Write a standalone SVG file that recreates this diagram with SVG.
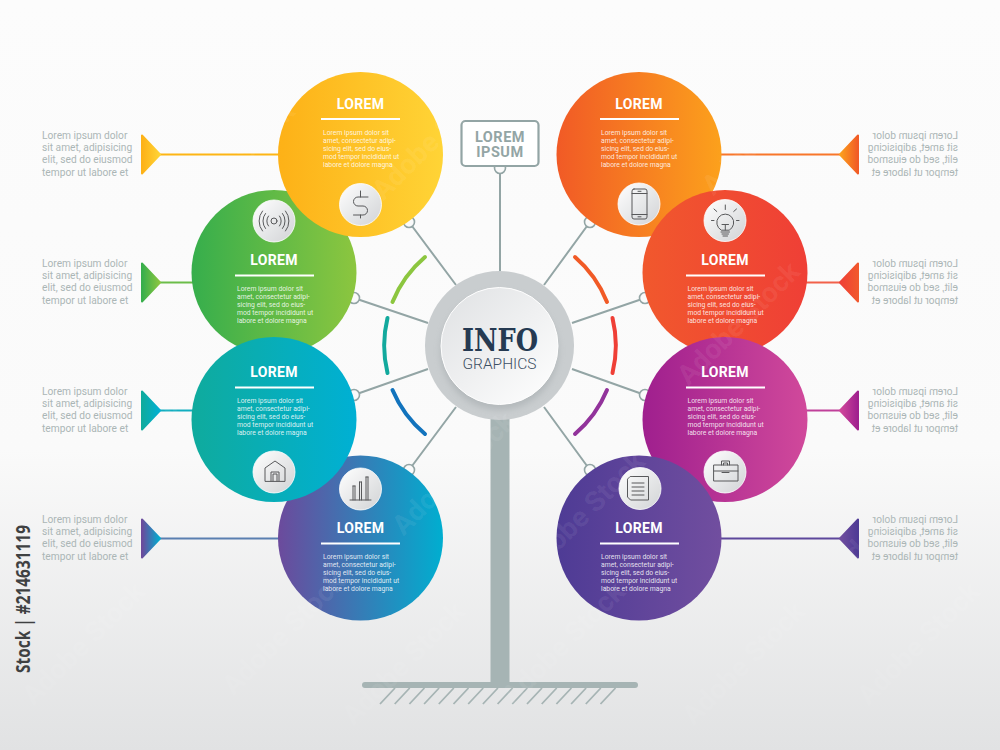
<svg xmlns="http://www.w3.org/2000/svg" width="1000" height="750" viewBox="0 0 1000 750">
<defs>
<linearGradient id="bg" x1="0" y1="0" x2="0" y2="1"><stop offset="0" stop-color="#fcfcfc"/><stop offset=".6" stop-color="#fafafa"/><stop offset="1" stop-color="#e1e2e3"/></linearGradient>
<linearGradient id="gY"><stop offset="0" stop-color="#fdb117"/><stop offset="1" stop-color="#ffd436"/></linearGradient>
<linearGradient id="gG"><stop offset="0" stop-color="#36ae4c"/><stop offset="1" stop-color="#8cc63f"/></linearGradient>
<linearGradient id="gT"><stop offset="0" stop-color="#0fab9d"/><stop offset="1" stop-color="#00b0d4"/></linearGradient>
<linearGradient id="gB"><stop offset="0" stop-color="#6c4a9c"/><stop offset="1" stop-color="#00aed0"/></linearGradient>
<linearGradient id="gO"><stop offset="0" stop-color="#f15a26"/><stop offset="1" stop-color="#fca11c"/></linearGradient>
<linearGradient id="gR"><stop offset="0" stop-color="#f1582d"/><stop offset="1" stop-color="#ef3f36"/></linearGradient>
<linearGradient id="gM"><stop offset="0" stop-color="#9f1f8e"/><stop offset="1" stop-color="#d1499b"/></linearGradient>
<linearGradient id="gI"><stop offset="0" stop-color="#4e3b95"/><stop offset="1" stop-color="#714e9f"/></linearGradient>
<linearGradient id="gIcon" x1="0" y1="0" x2="1" y2="1"><stop offset="0" stop-color="#ffffff"/><stop offset="1" stop-color="#d1d3d5"/></linearGradient>
<linearGradient id="gHub" x1="0" y1="0" x2="1" y2="1"><stop offset="0" stop-color="#dfe1e3"/><stop offset="1" stop-color="#ffffff"/></linearGradient>
<filter id="soft" x="-20%" y="-20%" width="140%" height="140%"><feGaussianBlur stdDeviation="3"/></filter>
</defs>
<style>
.sp{stroke:#93a5a5;stroke-width:2;fill:none}
.dot{stroke:#93a5a5;stroke-width:1.6;fill:#fafafa}
.arc{stroke-width:4;fill:none;stroke-linecap:round}
.ln{stroke-width:2;fill:none}
.ar{stroke-width:2;stroke-linejoin:round}
.side{font-family:"Roboto","Liberation Sans",sans-serif;font-size:10.2px;fill:#abb6b6}
.ttl{font-family:"Roboto","Liberation Sans",sans-serif;font-size:14px;font-weight:700;fill:#fff;text-anchor:middle;letter-spacing:.3px}
.body{font-family:"Roboto","Liberation Sans",sans-serif;font-size:6.8px;fill:#fff;fill-opacity:.85}
.rule{stroke:#fff;stroke-width:1.8}
.ic{fill:url(#gIcon);stroke:#fff;stroke-width:.8}
.ig{fill:none;stroke:#58595b;stroke-width:1;stroke-linecap:round;stroke-linejoin:round}
.wm{font-family:"Roboto","Liberation Sans",sans-serif;font-size:28px;font-weight:700;fill:#fff;fill-opacity:.08;text-anchor:middle}
</style>
<rect width="1000" height="750" fill="url(#bg)"/>

<g id="connectors">
<path class="sp" d="M456 285L409 222M428 323L354 298M428 369L354 395M456 407L409 470M544 285L590 222M572 323L645 298M572 369L645 395M544 407L590 470M500 271V170"/>
<g>
<circle class="dot" cx="409" cy="222" r="5.5"/><circle class="dot" cx="354" cy="298" r="5.5"/><circle class="dot" cx="354" cy="395" r="5.5"/><circle class="dot" cx="409" cy="470" r="5.5"/>
<circle class="dot" cx="590" cy="222" r="5.5"/><circle class="dot" cx="645" cy="298" r="5.5"/><circle class="dot" cx="645" cy="395" r="5.5"/><circle class="dot" cx="590" cy="470" r="5.5"/>
<circle class="dot" cx="500" cy="168" r="5.5"/>
</g>
<path class="arc" stroke="#8cc63f" d="M425 257A116 116 0 0 0 392.5 302"/>
<path class="arc" stroke="#12a99d" d="M387.500 318A116 116 0 0 0 387.500 373"/>
<path class="arc" stroke="#1273bd" d="M392.500 390A116 116 0 0 0 425 434"/>
<path class="arc" stroke="#f15a26" d="M575 257A116 116 0 0 1 607 302"/>
<path class="arc" stroke="#ef3f36" d="M612.500 318A116 116 0 0 1 612.500 373"/>
<path class="arc" stroke="#92339b" d="M607 390A116 116 0 0 1 575 434"/>
<path class="ln" stroke="#fdb515" d="M160 154.500H290"/>
<path class="ln" stroke="#6cbd4a" d="M160 282.500H200"/>
<path class="ln" stroke="#12aec0" d="M160 410.500H200"/>
<path class="ln" stroke="#5a7fb0" d="M160 538.500H290"/>
<path class="ln" stroke="#f8762a" d="M710 154.500H840"/>
<path class="ln" stroke="#f2614a" d="M800 282.500H840"/>
<path class="ln" stroke="#c0409a" d="M800 410.500H840"/>
<path class="ln" stroke="#5d479b" d="M710 538.500H840"/>
<path class="ar" fill="url(#gY)" stroke="url(#gY)" d="M142 135.500V173.500L160 154.500Z"/>
<path class="ar" fill="url(#gG)" stroke="url(#gG)" d="M142 263.500V301.500L160 282.500Z"/>
<path class="ar" fill="url(#gT)" stroke="url(#gT)" d="M142 391.500V429.500L160 410.500Z"/>
<path class="ar" fill="url(#gB)" stroke="url(#gB)" d="M142 519.500V557.500L160 538.500Z"/>
<path class="ar" fill="url(#gO)" stroke="url(#gO)" transform="matrix(-1 0 0 1 1000 0)" d="M142 135.500V173.500L160 154.500Z"/>
<path class="ar" fill="url(#gR)" stroke="url(#gR)" transform="matrix(-1 0 0 1 1000 0)" d="M142 263.500V301.500L160 282.500Z"/>
<path class="ar" fill="url(#gM)" stroke="url(#gM)" transform="matrix(-1 0 0 1 1000 0)" d="M142 391.500V429.500L160 410.500Z"/>
<path class="ar" fill="url(#gI)" stroke="url(#gI)" transform="matrix(-1 0 0 1 1000 0)" d="M142 519.500V557.500L160 538.500Z"/>
</g>

<g id="notes-left" class="side">
<text x="42" y="139">Lorem ipsum dolor</text><text x="42" y="151.200">sit amet, adipisicing</text><text x="42" y="163.400">elit, sed do eiusmod</text><text x="42" y="175.600">tempor ut labore et</text>
<text x="42" y="267">Lorem ipsum dolor</text><text x="42" y="279.200">sit amet, adipisicing</text><text x="42" y="291.400">elit, sed do eiusmod</text><text x="42" y="303.600">tempor ut labore et</text>
<text x="42" y="395">Lorem ipsum dolor</text><text x="42" y="407.200">sit amet, adipisicing</text><text x="42" y="419.400">elit, sed do eiusmod</text><text x="42" y="431.600">tempor ut labore et</text>
<text x="42" y="523">Lorem ipsum dolor</text><text x="42" y="535.200">sit amet, adipisicing</text><text x="42" y="547.400">elit, sed do eiusmod</text><text x="42" y="559.600">tempor ut labore et</text>
</g>
<g id="notes-right" class="side" transform="matrix(-1 0 0 1 1000 0)">
<text x="42" y="139">Lorem ipsum dolor</text><text x="42" y="151.200">sit amet, adipisicing</text><text x="42" y="163.400">elit, sed do eiusmod</text><text x="42" y="175.600">tempor ut labore et</text>
<text x="42" y="267">Lorem ipsum dolor</text><text x="42" y="279.200">sit amet, adipisicing</text><text x="42" y="291.400">elit, sed do eiusmod</text><text x="42" y="303.600">tempor ut labore et</text>
<text x="42" y="395">Lorem ipsum dolor</text><text x="42" y="407.200">sit amet, adipisicing</text><text x="42" y="419.400">elit, sed do eiusmod</text><text x="42" y="431.600">tempor ut labore et</text>
<text x="42" y="523">Lorem ipsum dolor</text><text x="42" y="535.200">sit amet, adipisicing</text><text x="42" y="547.400">elit, sed do eiusmod</text><text x="42" y="559.600">tempor ut labore et</text>
</g>

<g id="node-blue">
<circle cx="360.500" cy="538" r="82.500" fill="url(#gB)"/>
<circle class="ic" cx="360.500" cy="489" r="21"/>
<path class="ig" d="M350 500H371M353 486V500M355 486V500M353 486H355M359.500 482V500M361.500 482V500M359.500 482H361.500M366 477V500M368 477V500M366 477H368"/>
<text class="ttl" x="360.500" y="533">LOREM</text><line class="rule" x1="321" x2="400" y1="543.500" y2="543.500"/>
<text class="body" x="323" y="558.500">Lorem ipsum dolor sit</text><text class="body" x="323" y="566.700">amet, consectetur adipi-</text><text class="body" x="323" y="574.800">sicing elit, sed do eius-</text><text class="body" x="323" y="583">mod tempor incididunt ut</text><text class="body" x="323" y="591.100">labore et dolore magna</text>
</g>
<g id="node-green">
<circle cx="274" cy="272.500" r="82.500" fill="url(#gG)"/>
<circle class="ic" cx="274" cy="221" r="21"/>
<g class="ig"><circle cx="274" cy="221" r="3"/><path d="M268.500 216A8 8 0 0 0 268.500 226M265.500 213.500A12 12 0 0 0 265.500 228.500M262.500 211A16 16 0 0 0 262.500 231M279.500 216A8 8 0 0 1 279.500 226M282.500 213.500A12 12 0 0 1 282.500 228.500M285.500 211A16 16 0 0 1 285.500 231"/></g>
<text class="ttl" x="274" y="265">LOREM</text><line class="rule" x1="235" x2="314" y1="275.500" y2="275.500"/>
<text class="body" x="237" y="290.500">Lorem ipsum dolor sit</text><text class="body" x="237" y="298.700">amet, consectetur adipi-</text><text class="body" x="237" y="306.800">sicing elit, sed do eius-</text><text class="body" x="237" y="315">mod tempor incididunt ut</text><text class="body" x="237" y="323.100">labore et dolore magna</text>
</g>
<g id="node-teal">
<circle cx="274" cy="419.500" r="82.500" fill="url(#gT)"/>
<circle class="ic" cx="274" cy="472" r="21"/>
<path class="ig" d="M265 481V468L275 461L285 468V481ZM271 481V472H279V481M273 481V474H277V481"/>
<text class="ttl" x="274" y="377">LOREM</text><line class="rule" x1="235" x2="314" y1="387.500" y2="387.500"/>
<text class="body" x="237" y="402.500">Lorem ipsum dolor sit</text><text class="body" x="237" y="410.700">amet, consectetur adipi-</text><text class="body" x="237" y="418.800">sicing elit, sed do eius-</text><text class="body" x="237" y="427">mod tempor incididunt ut</text><text class="body" x="237" y="435.100">labore et dolore magna</text>
</g>
<g id="node-yellow">
<circle cx="360.500" cy="154.500" r="82.500" fill="url(#gY)"/>
<circle class="ic" cx="360.500" cy="204.500" r="21"/>
<path class="ig" d="M368 197H358A4.500 4.500 0 0 0 358 206H363A4.500 4.500 0 0 1 363 215H353.500M360.500 191V197M360.500 215V218"/>
<text class="ttl" x="360.500" y="109">LOREM</text><line class="rule" x1="321" x2="400" y1="119" y2="119"/>
<text class="body" x="323" y="134.500">Lorem ipsum dolor sit</text><text class="body" x="323" y="142.700">amet, consectetur adipi-</text><text class="body" x="323" y="150.800">sicing elit, sed do eius-</text><text class="body" x="323" y="159">mod tempor incididunt ut</text><text class="body" x="323" y="167.100">labore et dolore magna</text>
</g>

<g id="node-orange">
<circle cx="639" cy="154.500" r="82.500" fill="url(#gO)"/>
<circle class="ic" cx="639" cy="204" r="21"/>
<g class="ig"><rect x="632" y="189" width="15" height="30" rx="2"/><path d="M632 193.500H647M632 214.500H647M638 191.300H641M638 216.800H641"/></g>
<text class="ttl" x="639" y="109">LOREM</text><line class="rule" x1="600" x2="679" y1="119" y2="119"/>
<text class="body" x="601" y="134.500">Lorem ipsum dolor sit</text><text class="body" x="601" y="142.700">amet, consectetur adipi-</text><text class="body" x="601" y="150.800">sicing elit, sed do eius-</text><text class="body" x="601" y="159">mod tempor incididunt ut</text><text class="body" x="601" y="167.100">labore et dolore magna</text>
</g>
<g id="node-red">
<circle cx="725" cy="272.500" r="82.500" fill="url(#gR)"/>
<circle class="ic" cx="725" cy="220.500" r="21"/>
<g class="ig"><path d="M721 230A8.500 8.500 0 1 1 729.500 230ZM722 224.500H728.500M725.300 224.500V230M721 232H729.500M722 234H728.500M723 236H727.500M725.300 205V209.500M714 209L716.800 211.500M736.500 209L733.700 211.500M711.500 220.500H714M736.500 220.500H739"/></g>
<text class="ttl" x="725" y="265">LOREM</text><line class="rule" x1="686" x2="765" y1="275.500" y2="275.500"/>
<text class="body" x="687.500" y="290.500">Lorem ipsum dolor sit</text><text class="body" x="687.500" y="298.700">amet, consectetur adipi-</text><text class="body" x="687.500" y="306.800">sicing elit, sed do eius-</text><text class="body" x="687.500" y="315">mod tempor incididunt ut</text><text class="body" x="687.500" y="323.100">labore et dolore magna</text>
</g>
<g id="node-magenta">
<circle cx="725" cy="419.500" r="82.500" fill="url(#gM)"/>
<circle class="ic" cx="725" cy="472" r="21"/>
<g class="ig"><rect x="714" y="465" width="24" height="16"/><path d="M714 471H738M721.500 465V461H729.500V465M723.500 465V463H727.500V465M722 472.500H729"/></g>
<text class="ttl" x="725" y="377">LOREM</text><line class="rule" x1="686" x2="765" y1="387.500" y2="387.500"/>
<text class="body" x="687.500" y="402.500">Lorem ipsum dolor sit</text><text class="body" x="687.500" y="410.700">amet, consectetur adipi-</text><text class="body" x="687.500" y="418.800">sicing elit, sed do eius-</text><text class="body" x="687.500" y="427">mod tempor incididunt ut</text><text class="body" x="687.500" y="435.100">labore et dolore magna</text>
</g>
<g id="node-indigo">
<circle cx="639" cy="538" r="82.500" fill="url(#gI)"/>
<circle class="ic" cx="640" cy="488.500" r="21"/>
<path class="ig" d="M630.500 476.500H648.500V500H630.500L627.500 497V479.500ZM632 483H644M632 487H644M632 491H644M632 495H644"/>
<text class="ttl" x="639" y="533">LOREM</text><line class="rule" x1="600" x2="679" y1="543.500" y2="543.500"/>
<text class="body" x="601" y="558.500">Lorem ipsum dolor sit</text><text class="body" x="601" y="566.700">amet, consectetur adipi-</text><text class="body" x="601" y="574.800">sicing elit, sed do eius-</text><text class="body" x="601" y="583">mod tempor incididunt ut</text><text class="body" x="601" y="591.100">labore et dolore magna</text>
</g>

<g id="node-label">
<rect x="461.500" y="121" width="77" height="45" rx="4" fill="#fff" stroke="#93a5a5" stroke-width="2.200"/>
<text x="500" y="142" text-anchor="middle" font-family="Roboto,'Liberation Sans',sans-serif" font-size="14.500" font-weight="700" fill="#93a5a5" letter-spacing=".5">LOREM</text>
<text x="500" y="157" text-anchor="middle" font-family="Roboto,'Liberation Sans',sans-serif" font-size="14.500" font-weight="700" fill="#93a5a5" letter-spacing=".5">IPSUM</text>
</g>

<g id="stand">
<rect x="490.500" y="410" width="19" height="275" fill="#a6b4b4"/>
<rect x="362" y="682" width="276" height="6" rx="3" fill="#a6b4b4"/>
<path stroke="#a6b4b4" stroke-width="1.800" fill="none" d="M395 688L380 704M409.700 688L394.700 704M424.400 688L409.400 704M439.100 688L424.100 704M453.800 688L438.800 704M468.500 688L453.500 704M483.200 688L468.200 704M497.900 688L482.900 704M512.600 688L497.600 704M527.300 688L512.300 704M542 688L527 704M556.700 688L541.700 704M571.400 688L556.400 704M586.100 688L571.100 704M600.800 688L585.800 704M615.500 688L600.500 704"/>
</g>

<g id="node-hub">
<circle cx="499.500" cy="345.500" r="74.500" fill="#c9cdcf"/>
<circle cx="499.500" cy="351" r="59" fill="#a3a9ac" opacity=".55" filter="url(#soft)"/>
<circle cx="499.500" cy="346" r="58.500" fill="url(#gHub)" stroke="#fff" stroke-width="1"/>
<text x="500" y="351" text-anchor="middle" font-family="'DejaVu Serif','Liberation Serif',serif" font-size="32" font-weight="700" fill="#253a52" textLength="76" lengthAdjust="spacingAndGlyphs">INFO</text>
<text x="499.500" y="369" text-anchor="middle" font-family="Roboto,'Liberation Sans',sans-serif" font-size="15.500" font-weight="300" fill="#3d4f63" textLength="74" lengthAdjust="spacingAndGlyphs">GRAPHICS</text>
</g>

<g id="watermark">
<text class="wm" transform="translate(105 115) rotate(-45)">Adobe Stock</text>
<text class="wm" transform="translate(240 170) rotate(-45)">Adobe Stock</text>
<text class="wm" transform="translate(440 145) rotate(-45)">Adobe Stock</text>
<text class="wm" transform="translate(770 140) rotate(-45)">Adobe Stock</text>
<text class="wm" transform="translate(905 215) rotate(-45)">Adobe Stock</text>
<text class="wm" transform="translate(930 310) rotate(-45)">Adobe Stock</text>
<text class="wm" transform="translate(745 330) rotate(-45)">Adobe Stock</text>
<text class="wm" transform="translate(80 320) rotate(-45)">Adobe Stock</text>
<text class="wm" transform="translate(130 470) rotate(-45)">Adobe Stock</text>
<text class="wm" transform="translate(460 480) rotate(-45)">Adobe Stock</text>
<text class="wm" transform="translate(590 520) rotate(-45)">Adobe Stock</text>
<text class="wm" transform="translate(900 520) rotate(-45)">Adobe Stock</text>
<text class="wm" transform="translate(90 650) rotate(-45)">Adobe Stock</text>
<text class="wm" transform="translate(290 640) rotate(-45)">Adobe Stock</text>
<text class="wm" transform="translate(410 670) rotate(-45)">Adobe Stock</text>
<text class="wm" transform="translate(570 650) rotate(-45)">Adobe Stock</text>
<text class="wm" transform="translate(750 670) rotate(-45)">Adobe Stock</text>
<text class="wm" transform="translate(925 650) rotate(-45)">Adobe Stock</text>
</g>
<text transform="translate(29.500 673) rotate(-90)" font-family="'Open Sans','Liberation Sans',sans-serif" font-size="20" font-weight="700" fill="#3f4142" textLength="148" lengthAdjust="spacingAndGlyphs">Stock | #214631119</text>
</svg>
